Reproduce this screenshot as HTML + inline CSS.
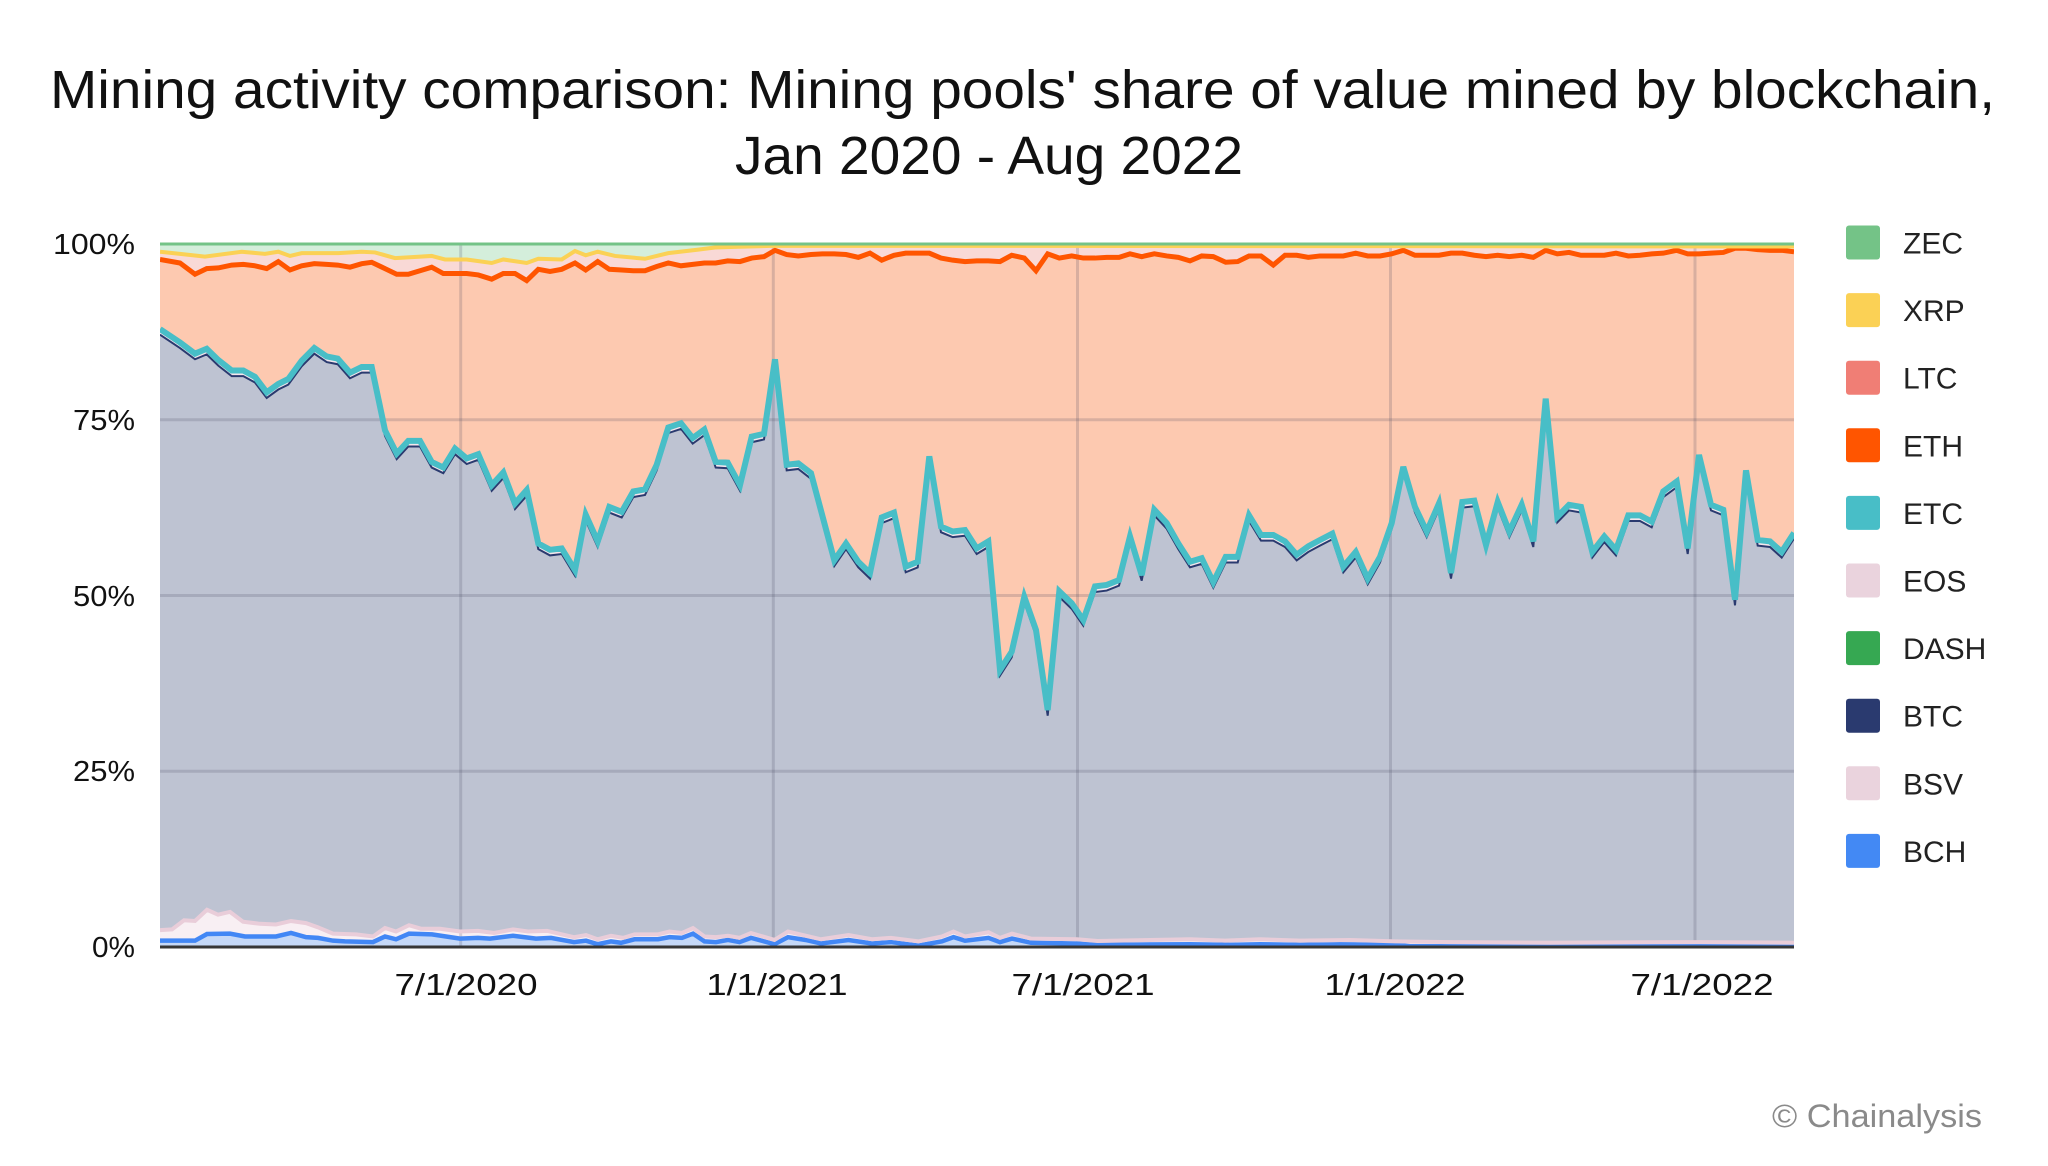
<!DOCTYPE html>
<html><head><meta charset="utf-8"><style>
html,body{margin:0;padding:0;background:#fff;}
svg{display:block;}
text{font-family:"Liberation Sans",sans-serif;}
</style></head><body>
<svg width="2048" height="1166" viewBox="0 0 2048 1166" xmlns="http://www.w3.org/2000/svg">
<rect width="2048" height="1166" fill="#ffffff"/>
<defs>
<clipPath id="plot"><rect x="160" y="240" width="1634" height="707"/></clipPath>
<polygon id="etcA" points="160,87.9 180,86 195,84.4 206.7,85.1 218.3,83.5 231.7,82 243.3,82 255,81.1 266.7,78.9 278.3,80.1 288.3,80.8 301.7,83.4 314.3,85.2 326.7,84 337.7,83.7 350,81.7 361.7,82.5 371.7,82.5 385,73.5 396.7,70.2 408.3,72 420,72 431.7,69 443.3,68.2 455,70.9 466.7,69.5 478.3,70.1 491.7,65.7 503.3,67.5 515,63.1 526.7,65 538.3,57.4 550,56.5 561.7,56.7 575,53.6 585.7,61.5 597.7,57.7 609.3,62.6 621.7,61.9 633.3,64.8 645,65.1 656.7,68.6 668.3,73.9 681,74.5 692.7,72.4 704.3,73.6 715.7,69 727.7,68.9 740,65.7 751.7,72.6 764,73 775,83.6 786.7,68.6 798.3,68.8 811,67.4 834.3,55 846,57.4 858.3,54.8 870,53.2 881.7,61.1 894,61.8 905.7,54.1 917.7,54.8 929.3,69.8 941,59.8 952.7,59.1 965,59.3 976.7,56.7 988.3,57.7 1000,39.4 1011.7,42 1024.3,49.8 1036,45.1 1047.7,33.7 1059.3,50.6 1071.7,48.9 1083.3,46.5 1095,51.3 1106.7,51.5 1119,52.2 1130,58.4 1141.7,52.9 1154.3,62.2 1166.7,60.3 1178.3,57.4 1190,54.8 1201.7,55.3 1213.3,51.9 1225.7,55.5 1237.7,55.5 1249,61.4 1261,58.6 1273.3,58.6 1285,57.7 1296.7,55.8 1308.3,57 1320,57.9 1332.3,58.8 1343.3,54.1 1355.7,56.2 1367.7,52.4 1380,55.5 1391.7,60.3 1403.3,68.3 1415,62.6 1426.7,59.1 1439,63.1 1451,53.2 1462.3,63.3 1474.3,63.5 1486,57.2 1497.7,63.3 1509.3,59.1 1521.7,62.9 1533.3,57.7 1545.7,78 1557.3,61.2 1569,62.9 1581,62.6 1592.3,56.2 1604.3,58.4 1616,56.5 1628.3,61.4 1640,61.4 1651.7,60.5 1663.3,64.8 1676.7,66.2 1687.7,56.7 1699,70 1711,62.9 1723.3,62.2 1735,49.4 1746,67.8 1757.7,57.9 1770,57.7 1781.7,56.2 1794,58.9 1794,-5 160,-5"/>
<polyline id="etcL" vector-effect="non-scaling-stroke" points="160,87.9 180,86 195,84.4 206.7,85.1 218.3,83.5 231.7,82 243.3,82 255,81.1 266.7,78.9 278.3,80.1 288.3,80.8 301.7,83.4 314.3,85.2 326.7,84 337.7,83.7 350,81.7 361.7,82.5 371.7,82.5 385,73.5 396.7,70.2 408.3,72 420,72 431.7,69 443.3,68.2 455,70.9 466.7,69.5 478.3,70.1 491.7,65.7 503.3,67.5 515,63.1 526.7,65 538.3,57.4 550,56.5 561.7,56.7 575,53.6 585.7,61.5 597.7,57.7 609.3,62.6 621.7,61.9 633.3,64.8 645,65.1 656.7,68.6 668.3,73.9 681,74.5 692.7,72.4 704.3,73.6 715.7,69 727.7,68.9 740,65.7 751.7,72.6 764,73 775,83.6 786.7,68.6 798.3,68.8 811,67.4 834.3,55 846,57.4 858.3,54.8 870,53.2 881.7,61.1 894,61.8 905.7,54.1 917.7,54.8 929.3,69.8 941,59.8 952.7,59.1 965,59.3 976.7,56.7 988.3,57.7 1000,39.4 1011.7,42 1024.3,49.8 1036,45.1 1047.7,33.7 1059.3,50.6 1071.7,48.9 1083.3,46.5 1095,51.3 1106.7,51.5 1119,52.2 1130,58.4 1141.7,52.9 1154.3,62.2 1166.7,60.3 1178.3,57.4 1190,54.8 1201.7,55.3 1213.3,51.9 1225.7,55.5 1237.7,55.5 1249,61.4 1261,58.6 1273.3,58.6 1285,57.7 1296.7,55.8 1308.3,57 1320,57.9 1332.3,58.8 1343.3,54.1 1355.7,56.2 1367.7,52.4 1380,55.5 1391.7,60.3 1403.3,68.3 1415,62.6 1426.7,59.1 1439,63.1 1451,53.2 1462.3,63.3 1474.3,63.5 1486,57.2 1497.7,63.3 1509.3,59.1 1521.7,62.9 1533.3,57.7 1545.7,78 1557.3,61.2 1569,62.9 1581,62.6 1592.3,56.2 1604.3,58.4 1616,56.5 1628.3,61.4 1640,61.4 1651.7,60.5 1663.3,64.8 1676.7,66.2 1687.7,56.7 1699,70 1711,62.9 1723.3,62.2 1735,49.4 1746,67.8 1757.7,57.9 1770,57.7 1781.7,56.2 1794,58.9"/>
</defs>

<!-- Title -->
<text x="50" y="108" font-size="54" fill="#111" textLength="1945" lengthAdjust="spacingAndGlyphs">Mining activity comparison: Mining pools' share of value mined by blockchain,</text>
<text x="735" y="174" font-size="54" fill="#111" textLength="508" lengthAdjust="spacingAndGlyphs">Jan 2020 - Aug 2022</text>

<!-- Plot -->
<g clip-path="url(#plot)">
  <rect x="160" y="244" width="1634" height="703" fill="#d4eedb"/>
  <g transform="translate(0,947) scale(1,-7.03)">
    <polygon fill="#f9d9d6" points="160,98.9 180,98.6 205,98.2 241.7,98.9 265,98.6 278.3,98.9 290,98.3 301.7,98.7 338.3,98.7 361.7,98.9 375,98.8 395,98 431.7,98.3 445,97.8 466.7,97.8 491.7,97.3 503.3,97.8 526.7,97.3 538.3,97.9 561.7,97.8 575,99 585.7,98.4 597.7,98.9 615,98.3 645,97.9 668.3,98.7 698.3,99.2 715,99.5 738.3,99.6 775,99.8 1794,99.7 1794,0 160,0"/>
    <polygon fill="#fdc9b0" points="160,97.8 180,97.3 195,95.7 206.7,96.5 218.3,96.6 231.7,97 243.3,97.1 255,96.9 266.7,96.5 278.3,97.5 290,96.3 301.7,96.9 314.3,97.2 326.7,97.1 337.7,97 350,96.7 361.7,97.2 371.7,97.4 385,96.5 396.7,95.7 408.3,95.7 420,96.2 431.7,96.7 443.3,95.8 455,95.8 466.7,95.8 478.3,95.6 491.7,95 503.3,95.8 515,95.8 526.7,94.8 538.3,96.4 550,96.1 561.7,96.4 575,97.3 585.7,96.3 597.7,97.5 609.3,96.4 621.7,96.3 633.3,96.2 645,96.2 656.7,96.8 668.3,97.3 681,96.9 692.7,97.1 704.3,97.3 715.7,97.3 727.7,97.6 740,97.5 751.7,98 764,98.2 775,99.1 786.7,98.5 798.3,98.3 811,98.5 822.3,98.6 834.3,98.6 846,98.5 858.3,98.1 870,98.7 881.7,97.7 894,98.4 905.7,98.7 917.7,98.7 929.3,98.7 941,98 952.7,97.7 965,97.5 976.7,97.6 988.3,97.6 1000,97.5 1011.7,98.4 1024.3,98 1036,96.2 1047.7,98.6 1059.3,98 1071.7,98.3 1083.3,98 1095,98 1106.7,98.1 1119,98.1 1130,98.6 1141.7,98.2 1154.3,98.6 1166.7,98.3 1178.3,98.1 1190,97.6 1201.7,98.3 1213.3,98.2 1225.7,97.4 1237.7,97.5 1249,98.3 1261,98.3 1273.3,97 1285,98.4 1296.7,98.4 1308.3,98.1 1320,98.3 1332.3,98.3 1343.3,98.3 1355.7,98.7 1367.7,98.3 1380,98.3 1391.7,98.6 1403.3,99.1 1415,98.4 1426.7,98.4 1439,98.4 1451,98.7 1462.3,98.7 1474.3,98.4 1486,98.2 1497.7,98.4 1509.3,98.2 1521.7,98.4 1533.3,98.1 1545.7,99.1 1557.3,98.6 1569,98.8 1581,98.4 1592.3,98.4 1604.3,98.4 1616,98.7 1628.3,98.3 1640,98.4 1651.7,98.6 1663.3,98.7 1676.7,99.1 1687.7,98.6 1699,98.6 1711,98.7 1723.3,98.8 1735,99.4 1746,99.4 1757.7,99.2 1770,99.1 1781.7,99.1 1794,98.9 1794,0 160,0"/>
    <use href="#etcA" fill="#c8ecef"/>
    <use href="#etcA" fill="#f4e6ec" transform="translate(0,-0.4)"/>
    <use href="#etcA" fill="#bec3d2" transform="translate(0,-0.8)"/>
    <polygon fill="#f8eff3" points="160,2.4 172,2.5 184,3.8 195,3.7 207,5.3 218,4.6 230,5 243,3.6 260,3.3 276,3.2 291,3.7 306,3.4 318,2.8 333,1.9 356,1.8 373,1.5 385,2.7 396,2.2 409,3.1 421,2.6 440,2.6 460,2.2 478,2.3 494,2 513,2.5 528,2.2 547,2.3 574,1.4 586,1.7 597.5,1.1 611,1.6 623,1.3 634.5,1.8 658,1.8 669.5,2.2 682,2 693,2.7 704.5,1.5 716,1.4 728,1.6 739.5,1.3 751,2 774.5,1 788,2.2 805.7,1.6 821,1.1 848.5,1.7 872,1.1 891,1.3 918.5,0.8 942,1.5 953.5,2.2 965,1.5 988.5,2.1 1000,1.3 1012,1.9 1031,1.2 1077,1.1 1097.5,0.85 1190,1.1 1225,0.9 1260,1.1 1300,0.9 1350,1 1396,0.8 1450,0.7 1550,0.6 1700,0.7 1794,0.6 1794,0 160,0"/>
    <polygon fill="#c5d8f7" points="160,0.9 195,0.9 207,1.85 230,1.9 245,1.5 276,1.5 291,2 306,1.4 318,1.3 333,0.9 345,0.8 373,0.7 385,1.5 396,1.1 409,1.9 432,1.8 460,1.2 478,1.3 490,1.2 513,1.6 536,1.2 551,1.3 574,0.7 586,0.9 597.5,0.4 611,0.8 621,0.6 634.5,1.1 658,1.1 669.5,1.4 682,1.3 693,1.9 704.5,0.8 716,0.7 728,1 739.5,0.7 751,1.3 774.5,0.4 788,1.4 805.7,1 821,0.5 848.5,1 872,0.5 891,0.7 918.5,0.2 942,0.8 953.5,1.4 965,0.9 988.5,1.3 1000,0.7 1012,1.2 1031,0.6 1077,0.5 1097.5,0.3 1190,0.4 1230,0.3 1260,0.4 1300,0.3 1340,0.4 1396,0.3 1410,0.1 1794,0.1 1794,0 160,0"/>
  </g>

  <g stroke="rgba(70,70,95,0.2)" stroke-width="3" fill="none">
    <line x1="160" y1="419.75" x2="1794" y2="419.75"/>
    <line x1="160" y1="595.5" x2="1794" y2="595.5"/>
    <line x1="160" y1="771.25" x2="1794" y2="771.25"/>
    <line x1="460.7" y1="244" x2="460.7" y2="947"/>
    <line x1="773.3" y1="244" x2="773.3" y2="947"/>
    <line x1="1077.5" y1="244" x2="1077.5" y2="947"/>
    <line x1="1390.5" y1="244" x2="1390.5" y2="947"/>
    <line x1="1695" y1="244" x2="1695" y2="947"/>
  </g>

  <g transform="translate(0,947) scale(1,-7.03)" fill="none" stroke-linejoin="miter" stroke-miterlimit="4">
    <polyline vector-effect="non-scaling-stroke" stroke="#4287f5" stroke-width="4.5" points="160,0.9 195,0.9 207,1.85 230,1.9 245,1.5 276,1.5 291,2 306,1.4 318,1.3 333,0.9 345,0.8 373,0.7 385,1.5 396,1.1 409,1.9 432,1.8 460,1.2 478,1.3 490,1.2 513,1.6 536,1.2 551,1.3 574,0.7 586,0.9 597.5,0.4 611,0.8 621,0.6 634.5,1.1 658,1.1 669.5,1.4 682,1.3 693,1.9 704.5,0.8 716,0.7 728,1 739.5,0.7 751,1.3 774.5,0.4 788,1.4 805.7,1 821,0.5 848.5,1 872,0.5 891,0.7 918.5,0.2 942,0.8 953.5,1.4 965,0.9 988.5,1.3 1000,0.7 1012,1.2 1031,0.6 1077,0.5 1097.5,0.3 1190,0.4 1230,0.3 1260,0.4 1300,0.3 1340,0.4 1396,0.3 1410,0.1 1794,0.1"/>
    <polyline vector-effect="non-scaling-stroke" stroke="#e9cdd9" stroke-width="4" points="160,2.4 172,2.5 184,3.8 195,3.7 207,5.3 218,4.6 230,5 243,3.6 260,3.3 276,3.2 291,3.7 306,3.4 318,2.8 333,1.9 356,1.8 373,1.5 385,2.7 396,2.2 409,3.1 421,2.6 440,2.6 460,2.2 478,2.3 494,2 513,2.5 528,2.2 547,2.3 574,1.4 586,1.7 597.5,1.1 611,1.6 623,1.3 634.5,1.8 658,1.8 669.5,2.2 682,2 693,2.7 704.5,1.5 716,1.4 728,1.6 739.5,1.3 751,2 774.5,1 788,2.2 805.7,1.6 821,1.1 848.5,1.7 872,1.1 891,1.3 918.5,0.8 942,1.5 953.5,2.2 965,1.5 988.5,2.1 1000,1.3 1012,1.9 1031,1.2 1077,1.1 1097.5,0.85 1190,1.1 1225,0.9 1260,1.1 1300,0.9 1350,1 1396,0.8 1450,0.7 1550,0.6 1700,0.7 1794,0.6"/>
    <use href="#etcL" stroke="#2a3a6f" stroke-width="2" transform="translate(0,-0.8)"/>
    <use href="#etcL" stroke="#48bec7" stroke-width="6"/>
    <polyline vector-effect="non-scaling-stroke" stroke="#ff5500" stroke-width="5" points="160,97.8 180,97.3 195,95.7 206.7,96.5 218.3,96.6 231.7,97 243.3,97.1 255,96.9 266.7,96.5 278.3,97.5 290,96.3 301.7,96.9 314.3,97.2 326.7,97.1 337.7,97 350,96.7 361.7,97.2 371.7,97.4 385,96.5 396.7,95.7 408.3,95.7 420,96.2 431.7,96.7 443.3,95.8 455,95.8 466.7,95.8 478.3,95.6 491.7,95 503.3,95.8 515,95.8 526.7,94.8 538.3,96.4 550,96.1 561.7,96.4 575,97.3 585.7,96.3 597.7,97.5 609.3,96.4 621.7,96.3 633.3,96.2 645,96.2 656.7,96.8 668.3,97.3 681,96.9 692.7,97.1 704.3,97.3 715.7,97.3 727.7,97.6 740,97.5 751.7,98 764,98.2 775,99.1 786.7,98.5 798.3,98.3 811,98.5 822.3,98.6 834.3,98.6 846,98.5 858.3,98.1 870,98.7 881.7,97.7 894,98.4 905.7,98.7 917.7,98.7 929.3,98.7 941,98 952.7,97.7 965,97.5 976.7,97.6 988.3,97.6 1000,97.5 1011.7,98.4 1024.3,98 1036,96.2 1047.7,98.6 1059.3,98 1071.7,98.3 1083.3,98 1095,98 1106.7,98.1 1119,98.1 1130,98.6 1141.7,98.2 1154.3,98.6 1166.7,98.3 1178.3,98.1 1190,97.6 1201.7,98.3 1213.3,98.2 1225.7,97.4 1237.7,97.5 1249,98.3 1261,98.3 1273.3,97 1285,98.4 1296.7,98.4 1308.3,98.1 1320,98.3 1332.3,98.3 1343.3,98.3 1355.7,98.7 1367.7,98.3 1380,98.3 1391.7,98.6 1403.3,99.1 1415,98.4 1426.7,98.4 1439,98.4 1451,98.7 1462.3,98.7 1474.3,98.4 1486,98.2 1497.7,98.4 1509.3,98.2 1521.7,98.4 1533.3,98.1 1545.7,99.1 1557.3,98.6 1569,98.8 1581,98.4 1592.3,98.4 1604.3,98.4 1616,98.7 1628.3,98.3 1640,98.4 1651.7,98.6 1663.3,98.7 1676.7,99.1 1687.7,98.6 1699,98.6 1711,98.7 1723.3,98.8 1735,99.4 1746,99.4 1757.7,99.2 1770,99.1 1781.7,99.1 1794,98.9"/>
    <polyline vector-effect="non-scaling-stroke" stroke="#fbd155" stroke-width="4" points="160,98.9 180,98.6 205,98.2 241.7,98.9 265,98.6 278.3,98.9 290,98.3 301.7,98.7 338.3,98.7 361.7,98.9 375,98.8 395,98 431.7,98.3 445,97.8 466.7,97.8 491.7,97.3 503.3,97.8 526.7,97.3 538.3,97.9 561.7,97.8 575,99 585.7,98.4 597.7,98.9 615,98.3 645,97.9 668.3,98.7 698.3,99.2 715,99.5 738.3,99.6 775,99.75 1794,99.65"/>
  </g>
  <line x1="160" y1="244" x2="1794" y2="244" stroke="#74c387" stroke-width="3"/>
</g>

<line x1="160" y1="947" x2="1794" y2="947" stroke="#363636" stroke-width="3"/>

<g font-size="29" fill="#111" text-anchor="end">
  <text x="135" y="254" textLength="82" lengthAdjust="spacingAndGlyphs">100%</text>
  <text x="135" y="430" textLength="62" lengthAdjust="spacingAndGlyphs">75%</text>
  <text x="135" y="606" textLength="62" lengthAdjust="spacingAndGlyphs">50%</text>
  <text x="135" y="781" textLength="62" lengthAdjust="spacingAndGlyphs">25%</text>
  <text x="135" y="957" textLength="43" lengthAdjust="spacingAndGlyphs">0%</text>
</g>

<g font-size="31" fill="#111" text-anchor="middle">
  <text x="466" y="995" textLength="143" lengthAdjust="spacingAndGlyphs">7/1/2020</text>
  <text x="777" y="995" textLength="141" lengthAdjust="spacingAndGlyphs">1/1/2021</text>
  <text x="1083" y="995" textLength="143" lengthAdjust="spacingAndGlyphs">7/1/2021</text>
  <text x="1395" y="995" textLength="141" lengthAdjust="spacingAndGlyphs">1/1/2022</text>
  <text x="1702" y="995" textLength="143" lengthAdjust="spacingAndGlyphs">7/1/2022</text>
</g>

<g font-size="30" fill="#222">
  <rect x="1846" y="225.5" width="34" height="34" rx="3" fill="#74c387"/>
  <text x="1903" y="253.5">ZEC</text>
  <rect x="1846" y="293.1" width="34" height="34" rx="3" fill="#fbd155"/>
  <text x="1903" y="321.1">XRP</text>
  <rect x="1846" y="360.7" width="34" height="34" rx="3" fill="#f07e75"/>
  <text x="1903" y="388.7">LTC</text>
  <rect x="1846" y="428.3" width="34" height="34" rx="3" fill="#ff5500"/>
  <text x="1903" y="456.3">ETH</text>
  <rect x="1846" y="495.9" width="34" height="34" rx="3" fill="#48bec7"/>
  <text x="1903" y="523.9">ETC</text>
  <rect x="1846" y="563.5" width="34" height="34" rx="3" fill="#ead3dd"/>
  <text x="1903" y="591.5">EOS</text>
  <rect x="1846" y="631.1" width="34" height="34" rx="3" fill="#36a852"/>
  <text x="1903" y="659.1">DASH</text>
  <rect x="1846" y="698.7" width="34" height="34" rx="3" fill="#2a3a6f"/>
  <text x="1903" y="726.7">BTC</text>
  <rect x="1846" y="766.3" width="34" height="34" rx="3" fill="#ead3dd"/>
  <text x="1903" y="794.3">BSV</text>
  <rect x="1846" y="833.9" width="34" height="34" rx="3" fill="#4389f4"/>
  <text x="1903" y="861.9">BCH</text>
</g>

<text x="1772" y="1127" font-size="32" fill="#8a8a8a" textLength="210" lengthAdjust="spacingAndGlyphs">© Chainalysis</text>
</svg>
</body></html>
